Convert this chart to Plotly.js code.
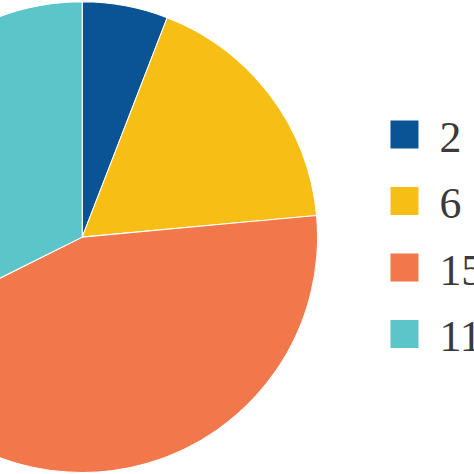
<!DOCTYPE html>
<html>
<head>
<meta charset="utf-8">
<script src="https://cdn.plot.ly/plotly-3.0.1.min.js"></script>
<style>
  html, body { margin: 0; padding: 0; width: 474px; height: 474px; overflow: hidden; background: #ffffff; }
  #wrap { position: absolute; left: -300px; top: 0; transform: scale(1.75); transform-origin: 0 0; }
</style>
</head>
<body>
<div id="wrap"><div id="chart"></div></div>
<script>
// Data
const labels = ["2", "6", "15", "11"];
const values = [2, 6, 15, 11];
const colors = ["#0a5496", "#f7be16", "#f2774b", "#5cc5ca"];

const serif = "'Liberation Serif', 'DejaVu Serif', serif";

const pie = {
  type: "pie",
  labels: labels,
  values: values,
  sort: false,
  direction: "clockwise",
  rotation: 0,
  textinfo: "none",
  hoverinfo: "none",
  showlegend: false,
  marker: { colors: colors, line: { color: "#ffffff", width: 0.6 } },
  domain: { x: [0.17, 0.74], y: [0, 1] }
};

const legendTraces = labels.map((lab, i) => ({
  type: "scatter",
  mode: "markers",
  x: [null],
  y: [null],
  name: lab,
  legendgroup: "g" + i,
  showlegend: true,
  hoverinfo: "none",
  marker: { symbol: "square", size: 16, color: colors[i] }
}));

const layout = {
  width: 480,
  height: 271,
  margin: { l: 0, r: 0, t: 1, b: 1 },
  paper_bgcolor: "#ffffff",
  plot_bgcolor: "rgba(0,0,0,0)",
  xaxis: { visible: false },
  yaxis: { visible: false },
  showlegend: true,
  legend: {
    x: 0.797, xanchor: "left",
    y: 0.505, yanchor: "middle",
    font: { family: serif, size: 25, color: "#3a3a3a" },
    tracegroupgap: 2.5,
    bgcolor: "rgba(0,0,0,0)"
  },
  font: { family: serif }
};

Plotly.newPlot("chart", [pie].concat(legendTraces), layout, { displayModeBar: false, staticPlot: true });
</script>
</body>
</html>
